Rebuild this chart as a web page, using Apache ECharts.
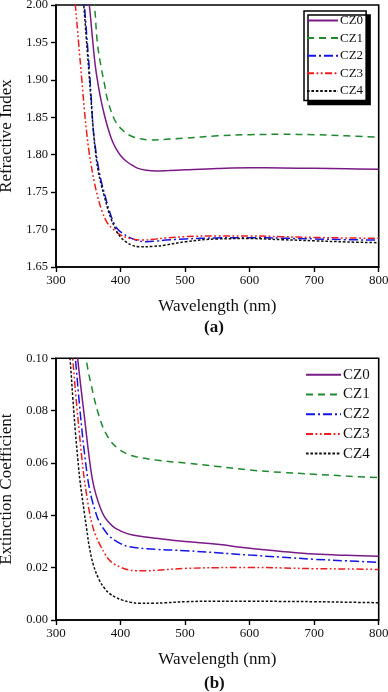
<!DOCTYPE html>
<html>
<head>
<meta charset="utf-8">
<script src="https://cdn.jsdelivr.net/npm/echarts@6/dist/echarts.min.js"></script>
<style>
html,body{margin:0;padding:0;background:#fff;}
#c{width:388px;height:692px;}
</style>
</head>
<body>
<div id="c"></div>
<script>
// ---------- Data: (a) Refractive index ----------
const seriesNames = ['CZ0', 'CZ1', 'CZ2', 'CZ3', 'CZ4'];
const xTicks = [300, 400, 500, 600, 700, 800];

const nCZ0_wl = [345, 351.6, 356, 361, 366, 370, 375, 380, 386, 393, 400, 408, 418, 427, 440, 455, 475, 500, 550, 600, 650, 700, 750, 800];
const nCZ0_v  = [2.04, 2.00, 1.96, 1.918, 1.89, 1.872, 1.853, 1.837, 1.821, 1.808, 1.799, 1.792, 1.786, 1.7818, 1.7792, 1.7782, 1.7788, 1.7798, 1.7815, 1.7825, 1.7823, 1.7818, 1.7812, 1.7805];

const nCZ1_wl = [352, 359.4, 364, 369.7, 375, 380, 390, 398, 403, 410, 419, 430, 445, 470, 500, 550, 600, 650, 700, 750, 800];
const nCZ1_v  = [2.04, 2.00, 1.95, 1.918, 1.895, 1.873, 1.848, 1.8374, 1.833, 1.828, 1.824, 1.8215, 1.8197, 1.8205, 1.8222, 1.8252, 1.8268, 1.8272, 1.8268, 1.8252, 1.8233];

const nCZ2_wl = [340, 344, 348, 352, 355, 357.8, 361, 364.6, 370, 376.4, 383, 390, 396, 403, 413, 424, 439, 455, 470, 500, 550, 600, 650, 700, 750, 800];
const nCZ2_v  = [2.04, 2.00, 1.955, 1.91, 1.87, 1.833, 1.81, 1.7885, 1.765, 1.744, 1.724, 1.708, 1.700, 1.695, 1.690, 1.686, 1.6838, 1.6845, 1.686, 1.6875, 1.6888, 1.6892, 1.6885, 1.6875, 1.6865, 1.686];

const nCZ3_wl = [325, 330, 335, 340, 344, 347.5, 351, 354, 359, 364.6, 372, 380, 390, 400, 413.6, 434, 455, 470, 500, 550, 600, 650, 700, 750, 800];
const nCZ3_v  = [2.05, 2.00, 1.95, 1.90, 1.86, 1.83, 1.805, 1.7885, 1.765, 1.744, 1.723, 1.7083, 1.6994, 1.693, 1.6883, 1.686, 1.6875, 1.6888, 1.6905, 1.6915, 1.6915, 1.6905, 1.6895, 1.6888, 1.6883];

const nCZ4_wl = [339, 343, 347, 351, 354.5, 357.8, 361, 365, 370, 375, 383, 393, 400, 408, 418, 429, 450, 470, 501, 550, 600, 650, 700, 750, 800];
const nCZ4_v  = [2.04, 2.00, 1.955, 1.91, 1.87, 1.833, 1.805, 1.78, 1.76, 1.744, 1.72, 1.6994, 1.69, 1.6838, 1.679, 1.6771, 1.6775, 1.6794, 1.6838, 1.6875, 1.688, 1.6865, 1.685, 1.6835, 1.6825];

// ---------- Data: (b) Extinction coefficient ----------
const kCZ0_wl = [329, 333.6, 339, 344, 350, 355.8, 362, 369.7, 375, 380, 388, 395.5, 405, 418.8, 435, 455, 500, 550, 600, 650, 700, 750, 800];
const kCZ0_v  = [0.112, 0.100, 0.088, 0.0777, 0.065, 0.0545, 0.0478, 0.0422, 0.0395, 0.0378, 0.0358, 0.0346, 0.0335, 0.0325, 0.0318, 0.0312, 0.0300, 0.0289, 0.0274, 0.0262, 0.0252, 0.0247, 0.0244];

const kCZ1_wl = [340, 346.5, 354, 367, 380, 395.5, 410, 424, 455, 500, 550, 600, 650, 700, 750, 800];
const kCZ1_v  = [0.112, 0.100, 0.0904, 0.0777, 0.0701, 0.0656, 0.0635, 0.0624, 0.0611, 0.0600, 0.0587, 0.0573, 0.0564, 0.0557, 0.0550, 0.0544];

const kCZ2_wl = [325, 330, 335, 340, 344, 352, 362, 368, 375, 382, 390, 400, 413.6, 455, 500, 550, 600, 650, 700, 750, 800];
const kCZ2_v  = [0.112, 0.100, 0.086, 0.073, 0.064, 0.050, 0.0407, 0.037, 0.0344, 0.0322, 0.0306, 0.0292, 0.0280, 0.0270, 0.0265, 0.0257, 0.0248, 0.0240, 0.0232, 0.0226, 0.0220];

const kCZ3_wl = [321, 325.8, 331, 336, 340, 344, 348, 352, 356, 362, 369.7, 376, 382.6, 390, 400.7, 412, 424, 440, 455, 500, 550, 600, 650, 700, 750, 800];
const kCZ3_v  = [0.112, 0.100, 0.085, 0.072, 0.062, 0.0535, 0.047, 0.041, 0.0365, 0.032, 0.028, 0.0252, 0.0229, 0.0214, 0.0201, 0.0192, 0.0188, 0.0188, 0.0190, 0.0197, 0.0200, 0.0201, 0.0199, 0.0196, 0.0195, 0.0193];

const kCZ4_wl = [317, 321.7, 326, 330, 334, 337, 340.5, 344, 348, 351.6, 358, 367, 375, 382.6, 392, 403, 415, 429, 450, 470, 501, 550, 600, 650, 700, 750, 800];
const kCZ4_v  = [0.112, 0.100, 0.085, 0.072, 0.061, 0.0535, 0.047, 0.0407, 0.034, 0.028, 0.021, 0.0153, 0.0122, 0.0102, 0.0087, 0.0076, 0.0068, 0.0064, 0.0064, 0.0066, 0.0070, 0.0072, 0.0072, 0.0071, 0.0070, 0.0068, 0.0066];

const nSeries = [[nCZ0_wl, nCZ0_v], [nCZ1_wl, nCZ1_v], [nCZ2_wl, nCZ2_v], [nCZ3_wl, nCZ3_v], [nCZ4_wl, nCZ4_v]];
const kSeries = [[kCZ0_wl, kCZ0_v], [kCZ1_wl, kCZ1_v], [kCZ2_wl, kCZ2_v], [kCZ3_wl, kCZ3_v], [kCZ4_wl, kCZ4_v]];

// ---------- Styles ----------
const FONT = "'Liberation Serif','Times New Roman',serif";
const colors = ['#7a1a86', '#1e8a2e', '#1414e6', '#ee1c1c', '#111111'];
const dashes = ['solid', [7, 5], [9, 3, 2, 3], [7, 2.5, 1.8, 2.5, 1.8, 2.5], [2.6, 1.8]];

function pairs(wl, v) { return wl.map((x, i) => [x, v[i]]); }

function xAxisCfg(gi) {
  return {
    type: 'value', gridIndex: gi, min: 300, max: 800, interval: 100,
    name: 'Wavelength (nm)', nameLocation: 'middle', nameGap: 31,
    nameTextStyle: { fontFamily: FONT, fontSize: 17, color: '#111' },
    axisLine: { show: true, lineStyle: { color: '#000', width: 1.6 } },
    axisTick: { show: true, inside: false, length: 5, lineStyle: { color: '#000', width: 1.4 } },
    axisLabel: { fontFamily: FONT, fontSize: 13, color: '#111', margin: 7 },
    splitLine: { show: false }
  };
}
function yAxisCfg(gi, min, max, interval, name) {
  return {
    type: 'value', gridIndex: gi, min: min, max: max, interval: interval,
    name: name, nameLocation: 'middle', nameGap: 37,
    nameTextStyle: { fontFamily: FONT, fontSize: 17, color: '#111' },
    axisLine: { show: true, lineStyle: { color: '#000', width: 1.6 } },
    axisTick: { show: true, inside: false, length: 5, lineStyle: { color: '#000', width: 1.4 } },
    axisLabel: { fontFamily: FONT, fontSize: 12.5, color: '#111', margin: 8, formatter: v => v.toFixed(2) },
    splitLine: { show: false }
  };
}

const series = [];
nSeries.forEach((s, i) => {
  series.push({
    name: seriesNames[i], type: 'line', xAxisIndex: 0, yAxisIndex: 0,
    data: pairs(s[0], s[1]), symbol: 'none', smooth: 0.4, clip: true,
    lineStyle: { color: colors[i], width: 1.5, type: dashes[i] },
    itemStyle: { color: colors[i] }
  });
});
kSeries.forEach((s, i) => {
  series.push({
    name: seriesNames[i] + ' ', type: 'line', xAxisIndex: 1, yAxisIndex: 1,
    data: pairs(s[0], s[1]), symbol: 'none', smooth: 0.4, clip: true,
    lineStyle: { color: colors[i], width: 1.5, type: dashes[i] },
    itemStyle: { color: colors[i] }
  });
});

const chart = echarts.init(document.getElementById('c'), null, { renderer: 'canvas' });
chart.setOption({
  animation: false,
  backgroundColor: '#fff',
  grid: [
    { left: 56, right: 9.3, top: 5, height: 262, show: true, borderColor: '#000', borderWidth: 1.6, backgroundColor: 'transparent', containLabel: false, outerBoundsMode: 'none' },
    { left: 56, right: 9.3, top: 358.3, height: 261.7, show: true, borderColor: '#000', borderWidth: 1.6, backgroundColor: 'transparent', containLabel: false, outerBoundsMode: 'none' }
  ],
  xAxis: [xAxisCfg(0), xAxisCfg(1)],
  yAxis: [
    yAxisCfg(0, 1.65, 2.00, 0.05, 'Refractive Index'),
    yAxisCfg(1, 0, 0.10, 0.02, 'Extinction Coefficient')
  ],
  legend: [
    {
      data: seriesNames, orient: 'vertical', left: 304, top: 11,
      itemWidth: 31, itemHeight: 12, itemGap: 4.6,
      padding: [3, 3, 3, 2],
      backgroundColor: '#fff', borderColor: '#000', borderWidth: 1.5,
      shadowColor: '#000', shadowBlur: 0.5, shadowOffsetX: 4, shadowOffsetY: 4,
      itemStyle: { opacity: 0 },
      textStyle: { fontFamily: FONT, fontSize: 13, color: '#111', padding: [0, 0, 0, -3] },
      selectedMode: false
    },
    {
      data: seriesNames.map(n => n + ' '), orient: 'vertical', left: 305, top: 367.3,
      itemWidth: 35, itemHeight: 14, itemGap: 4.7, padding: 0,
      itemStyle: { opacity: 0 },
      textStyle: { fontFamily: FONT, fontSize: 15, color: '#111', padding: [0, 0, 0, -3] },
      selectedMode: false
    }
  ],
  graphic: [
    { type: 'text', left: 204, top: 319, style: { text: '(a)', font: "bold 17px 'Liberation Serif', serif", fill: '#111' } },
    { type: 'text', left: 204, top: 675, style: { text: '(b)', font: "bold 17px 'Liberation Serif', serif", fill: '#111' } }
  ],
  series: series
});
</script>
</body>
</html>
